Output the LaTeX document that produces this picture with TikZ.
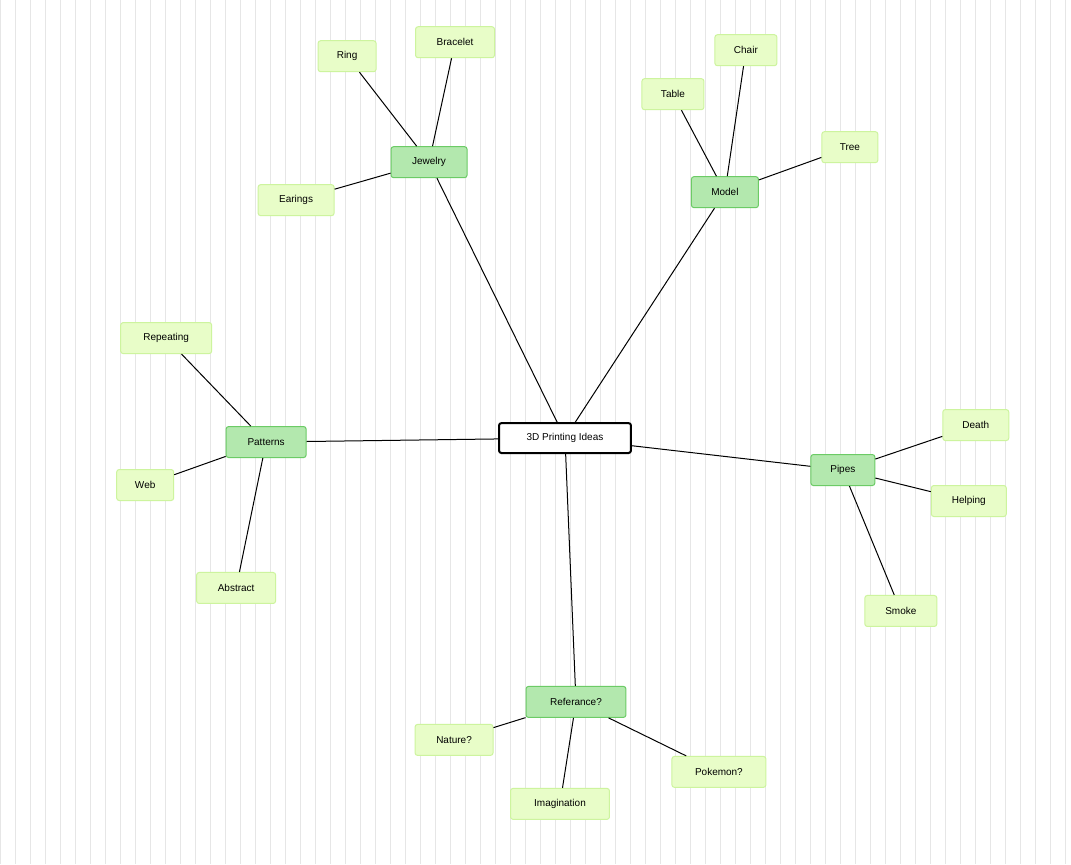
\documentclass[tikz,border=0pt]{standalone}
\usepackage{fontspec}
\setmainfont{Liberation Sans}
\definecolor{midfill}{HTML}{B3E8AE}
\definecolor{midline}{HTML}{6CCB66}
\definecolor{leaffill}{HTML}{E8FDC8}
\definecolor{leafline}{HTML}{CDF49E}
\definecolor{gridc}{HTML}{E6E6E6}
\begin{document}
\begin{tikzpicture}[x=1pt,y=-1pt,
  base/.style={rounded corners=2.5pt,minimum height=31pt,font=\fontsize{10}{12}\selectfont,inner xsep=0pt},
  root/.style={base,draw=black,line width=2pt,fill=white,minimum width=132pt,minimum height=30pt},
  mid/.style={base,draw=midline,line width=1pt,fill=midfill},
  leaf/.style={base,draw=leafline,line width=1pt,fill=leaffill},
  link/.style={draw=black,line width=1pt}]
\fill[white] (0,0) rectangle (1071,864);
\draw[gridc,line width=0.5pt] (0,0) grid[step=15] (1071,864);
\useasboundingbox (0,0) rectangle (1071,864);
\node[root] (c) at (565,438) {3D Printing Ideas};
\node[mid,minimum width=76pt] (jew) at (429,162) {Jewelry};
\node[leaf,minimum width=58pt] (ring) at (347,56) {Ring};
\node[leaf,minimum width=79pt] (brac) at (455,42) {Bracelet};
\node[leaf,minimum width=76pt] (ear) at (296,200) {Earings};
\node[mid,minimum width=67pt] (mod) at (725,192) {Model};
\node[leaf,minimum width=62pt] (chair) at (746,50) {Chair};
\node[leaf,minimum width=62pt] (table) at (673,94) {Table};
\node[leaf,minimum width=56pt] (tree) at (850,147) {Tree};
\node[mid,minimum width=80pt] (pat) at (266,442) {Patterns};
\node[leaf,minimum width=91pt] (rep) at (166,338) {Repeating};
\node[leaf,minimum width=57pt] (web) at (145,485) {Web};
\node[leaf,minimum width=79pt] (abs) at (236,588) {Abstract};
\node[mid,minimum width=64pt] (pip) at (843,470) {Pipes};
\node[leaf,minimum width=66pt] (death) at (976,425) {Death};
\node[leaf,minimum width=75pt] (help) at (969,501) {Helping};
\node[leaf,minimum width=72pt] (smoke) at (901,611) {Smoke};
\node[mid,minimum width=100pt] (ref) at (576,702) {Referance?};
\node[leaf,minimum width=78pt] (nat) at (454,740) {Nature?};
\node[leaf,minimum width=99pt] (ima) at (560,804) {Imagination};
\node[leaf,minimum width=94pt] (pok) at (719,772) {Pokemon?};
\begin{scope}[on background layer/.style={}]
\end{scope}
\begin{pgfinterruptboundingbox}\end{pgfinterruptboundingbox}
\foreach \a/\b in {c/jew,c/mod,c/pat,c/pip,c/ref,jew/ring,jew/brac,jew/ear,mod/chair,mod/table,mod/tree,pat/rep,pat/web,pat/abs,pip/death,pip/help,pip/smoke,ref/nat,ref/ima,ref/pok}
  \draw[link] (\a) -- (\b);
\end{tikzpicture}
\end{document}
